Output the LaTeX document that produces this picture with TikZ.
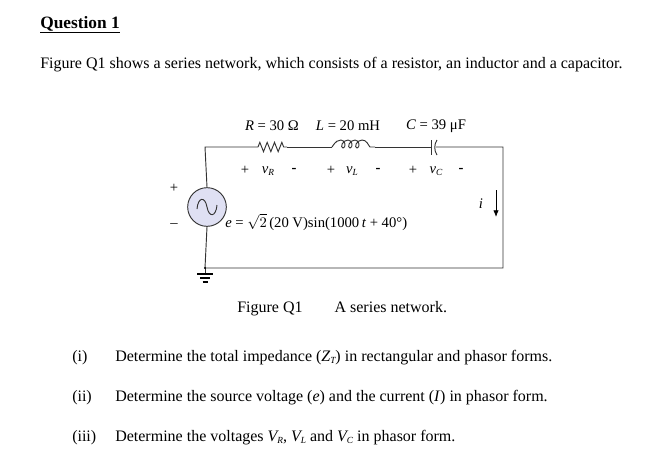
\documentclass[tikz,border=0pt]{standalone}
\usepackage{fontspec}
\setmainfont{Liberation Serif}
\usetikzlibrary{decorations.pathmorphing,arrows.meta}
\begin{document}
\begin{tikzpicture}[x=0.75pt,y=-0.75pt,
  txt/.style={anchor=base west,inner sep=0,font=\fontsize{12}{14}\selectfont},
  sm/.style={inner sep=0,font=\fontsize{11}{13}\selectfont},
  wire/.style={line width=0.7pt,black!80}]
\useasboundingbox (0,0) rectangle (663,469);
\node[txt,font=\bfseries\fontsize{13}{15}\selectfont] (q) at (40,28) {\underline{Question 1}};
\node[txt] (t1) at (40,68) {Figure Q1 shows a series network, which consists of a resistor, an inductor and a capacitor.};
% circuit
\coordinate (tl) at (205,147); \coordinate (tr) at (503,147);
\coordinate (bl) at (205,268); \coordinate (br) at (503,268);
\coordinate (r1) at (258,147); \coordinate (r2) at (287,147);
\coordinate (l1) at (332,147); \coordinate (l2) at (375,147);
\coordinate (c1) at (431,147); \coordinate (c2) at (436,147);
\node[circle,draw=black!80,line width=0.7pt,fill=cyan!25!blue!12,minimum size=29] (src) at (207,207) {};
\draw[wire] (src.north) -- (205,147) -- (r1);
\draw[wire,decorate,decoration={zigzag,segment length=5.5,amplitude=3.5}] (r1) -- (r2);
\draw[wire] (r2) -- (l1);
\draw[wire] (l1) .. controls (336,141) and (338,140) .. (341,140)
  .. controls (346,140) and (346,148) .. (343,148) .. controls (340,148) and (342,140) .. (348,140)
  .. controls (353,140) and (353,148) .. (350,148) .. controls (347,148) and (349,140) .. (355,140)
  .. controls (360,140) and (360,148) .. (357,148) .. controls (354,148) and (356,140) .. (362,140)
  .. controls (367,140) and (368,145) .. (370,147) -- (l2);
\draw[wire] (l2) -- (c1);
\draw[wire] (431,140) -- (431,155);
\draw[wire] (437,140) .. controls (434,144) and (434,151) .. (437,155);
\draw[wire] (c2) -- (tr) -- (br) -- (bl) -- (src.south);
\draw[wire] (bl) -- (205,274);
\draw[line width=1.5pt] (197,274) -- (213,274);
\draw[line width=1.5pt] (200,278) -- (210,278);
\draw[line width=1.5pt] (202.5,282) -- (207.5,282);
\fill (bl) circle (1.2);
\draw[wire] (197,209) .. controls (198,197) and (205,196) .. (207,207) .. controls (209,218) and (216,217) .. (217,205);
\node[sm] (lr) at (272,126) {\textit{R} = 30 Ω};
\node[sm] (ll) at (348,126) {\textit{L} = 20 mH};
\node[sm] (lc) at (436,126) {\textit{C} = 39 μF};
\node[sm] at (245,170) {+}; \node[sm] at (268,171) {\textit{v}\raisebox{-0.3ex}{\scriptsize\textit{R}}}; \node[sm] at (294,170) {\textbf{-}};
\node[sm] at (331,170) {+}; \node[sm] at (352,171) {\textit{v}\raisebox{-0.3ex}{\scriptsize\textit{L}}}; \node[sm] at (378,170) {\textbf{-}};
\node[sm] at (413,170) {+}; \node[sm] at (436,171) {\textit{v}\raisebox{-0.3ex}{\scriptsize\textit{C}}}; \node[sm] at (461,170) {\textbf{-}};
\node[sm] at (174,188) {+}; \node[sm] at (174,226) {–};
\node[sm] at (481,204) {\textit{i}};
\coordinate (a1) at (496,190); \coordinate (a2) at (496,217);
\draw[line width=0.6pt,-{Latex[length=5,width=4]}] (a1) -- (a2);
\node[sm,anchor=west] (eq) at (225,222) {\textit{e} = $\sqrt{2}$\,(20 V)sin(1000\,\textit{t} + 40°)};
\node[txt] (fig) at (237,312) {Figure Q1\qquad A series network.};
\node[txt] at (72,361) {(i)}; \node[txt] at (115,361) {Determine the total impedance (\textit{Z\raisebox{-0.3ex}{\scriptsize T}}) in rectangular and phasor forms.};
\node[txt] at (72,401) {(ii)}; \node[txt] at (115,401) {Determine the source voltage (\textit{e}) and the current (\textit{I}) in phasor form.};
\node[txt] at (72,441) {(iii)}; \node[txt] at (115,441) {Determine the voltages \textit{V\raisebox{-0.3ex}{\scriptsize R}}, \textit{V\raisebox{-0.3ex}{\scriptsize L}} and \textit{V\raisebox{-0.3ex}{\scriptsize C}} in phasor form.};
\end{tikzpicture}
\end{document}
